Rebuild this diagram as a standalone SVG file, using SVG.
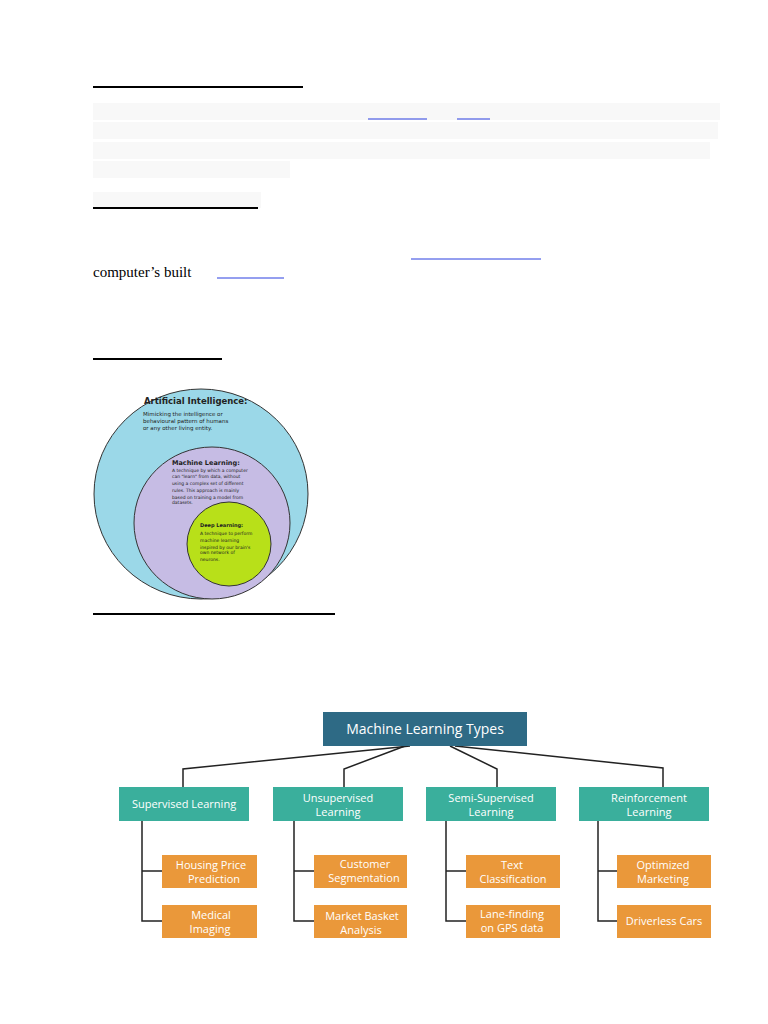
<svg xmlns="http://www.w3.org/2000/svg" width="768" height="1024" viewBox="0 0 768 1024">
<style>
.ul{stroke:#000;stroke-width:2}
.lk{stroke:#2a3fe0;stroke-width:1}
.bg{fill:#f8f8f8}
.t{font-family:"Open Sans","DejaVu Sans",sans-serif;fill:#fff;text-anchor:middle}
.g{fill:#3aaf9c}
.o{fill:#ea983a}
.c{fill:none;stroke:#222;stroke-width:1.5}
.v{font-family:"DejaVu Sans",sans-serif;fill:#222}
</style>
<rect width="768" height="1024" fill="#fff"/>
<g id="text-page">
<line class="ul" x1="93" y1="87" x2="303" y2="87"/>
<rect class="bg" x="93" y="103" width="627" height="17"/>
<rect class="bg" x="93" y="122" width="625" height="17"/>
<rect class="bg" x="93" y="142" width="617" height="17"/>
<rect class="bg" x="93" y="161" width="197" height="17"/>
<line class="lk" x1="368" y1="119" x2="427" y2="119"/>
<line class="lk" x1="457" y1="119" x2="490" y2="119"/>
<rect class="bg" x="93" y="192" width="168" height="16"/>
<line class="ul" x1="93" y1="208" x2="258" y2="208"/>
<line class="lk" x1="411" y1="259" x2="541" y2="259"/>
<text x="93" y="277" font-family="Liberation Serif,serif" font-size="15">computer’s built</text>
<line class="lk" x1="217" y1="278" x2="284" y2="278"/>
<line class="ul" x1="93" y1="359" x2="222" y2="359"/>
<line class="ul" x1="93" y1="614" x2="335" y2="614"/>
</g>
<g id="venn">
<ellipse cx="201" cy="494" rx="107" ry="105" fill="#9bd8e8" stroke="#333" stroke-width="1"/>
<ellipse cx="212" cy="523" rx="78" ry="76" fill="#c6bce4" stroke="#333" stroke-width="1"/>
<circle cx="229" cy="544" r="42" fill="#b8e019" stroke="#333" stroke-width="1"/>
<text class="v" x="144" y="404" font-size="8.5" font-weight="bold">Artificial Intelligence:</text>
<text class="v" font-size="5.5"><tspan x="143" y="416">Mimicking the intelligence or</tspan><tspan x="143" y="423">behavioural pattern of humans</tspan><tspan x="143" y="430">or any other living entity.</tspan></text>
<text class="v" x="172" y="465" font-size="6.5" font-weight="bold">Machine Learning:</text>
<text class="v" font-size="4.5"><tspan x="172" y="472">A technique by which a computer</tspan><tspan x="172" y="478">can "learn" from data, without</tspan><tspan x="172" y="485">using a complex set of different</tspan><tspan x="172" y="492">rules. This approach is mainly</tspan><tspan x="172" y="499">based on training a model from</tspan><tspan x="172" y="504">datasets.</tspan></text>
<text class="v" x="200" y="527" font-size="5" font-weight="bold">Deep Learning:</text>
<text class="v" font-size="4.5"><tspan x="200" y="535">A technique to perform</tspan><tspan x="200" y="542">machine learning</tspan><tspan x="200" y="549">inspired by our brain's</tspan><tspan x="200" y="554">own network of</tspan><tspan x="200" y="561">neurons.</tspan></text>
</g>
<g id="connectors">
<polyline class="c" points="410,746 183,769 183,787"/>
<polyline class="c" points="405,746 344,769 344,787"/>
<polyline class="c" points="450,746 497,769 497,787"/>
<polyline class="c" points="455,746 663,768 663,787"/>
<polyline class="c" points="142,821 142,921 162,921"/><line class="c" x1="142" y1="871" x2="162" y2="871"/>
<polyline class="c" points="294,821 294,921 314,921"/><line class="c" x1="294" y1="871" x2="314" y2="871"/>
<polyline class="c" points="446,821 446,921 466,921"/><line class="c" x1="446" y1="871" x2="466" y2="871"/>
<polyline class="c" points="598,821 598,921 617,921"/><line class="c" x1="598" y1="871" x2="617" y2="871"/>
</g>
<g id="root"><rect x="323" y="712" width="204" height="34" fill="#2e6a85"/><text class="t" x="425" y="734" font-size="14">Machine Learning Types</text></g>
<g id="supervised"><rect class="g" x="119" y="787" width="130" height="34"/><text class="t" x="184" y="808" font-size="11">Supervised Learning</text></g>
<g id="unsupervised"><rect class="g" x="273" y="787" width="130" height="34"/><text class="t" x="338" y="802" font-size="11">Unsupervised</text><text class="t" x="338" y="816" font-size="11">Learning</text></g>
<g id="semi"><rect class="g" x="426" y="787" width="130" height="34"/><text class="t" x="491" y="802" font-size="11">Semi-Supervised</text><text class="t" x="491" y="816" font-size="11">Learning</text></g>
<g id="reinforcement"><rect class="g" x="579" y="787" width="130" height="34"/><text class="t" x="649" y="802" font-size="11">Reinforcement</text><text class="t" x="649" y="816" font-size="11">Learning</text></g>
<g id="housing"><rect class="o" x="162" y="855" width="95" height="33"/><text class="t" x="211" y="869" font-size="11">Housing Price</text><text class="t" x="214" y="883" font-size="11">Prediction</text></g>
<g id="medical"><rect class="o" x="162" y="905" width="95" height="33"/><text class="t" x="211" y="919" font-size="11">Medical</text><text class="t" x="210" y="933" font-size="11">Imaging</text></g>
<g id="customer"><rect class="o" x="314" y="855" width="93" height="33"/><text class="t" x="365" y="868" font-size="11">Customer</text><text class="t" x="364" y="882" font-size="11">Segmentation</text></g>
<g id="market"><rect class="o" x="314" y="905" width="93" height="33"/><text class="t" x="362" y="920" font-size="11">Market Basket</text><text class="t" x="361" y="934" font-size="11">Analysis</text></g>
<g id="textclass"><rect class="o" x="466" y="855" width="94" height="33"/><text class="t" x="512" y="869" font-size="11">Text</text><text class="t" x="513" y="883" font-size="11">Classification</text></g>
<g id="lane"><rect class="o" x="466" y="905" width="94" height="33"/><text class="t" x="512" y="918" font-size="11">Lane-finding</text><text class="t" x="512" y="932" font-size="11">on GPS data</text></g>
<g id="optimized"><rect class="o" x="617" y="855" width="94" height="33"/><text class="t" x="663" y="869" font-size="11">Optimized</text><text class="t" x="663" y="883" font-size="11">Marketing</text></g>
<g id="driverless"><rect class="o" x="617" y="905" width="94" height="33"/><text class="t" x="664" y="925" font-size="11">Driverless Cars</text></g>
</svg>
